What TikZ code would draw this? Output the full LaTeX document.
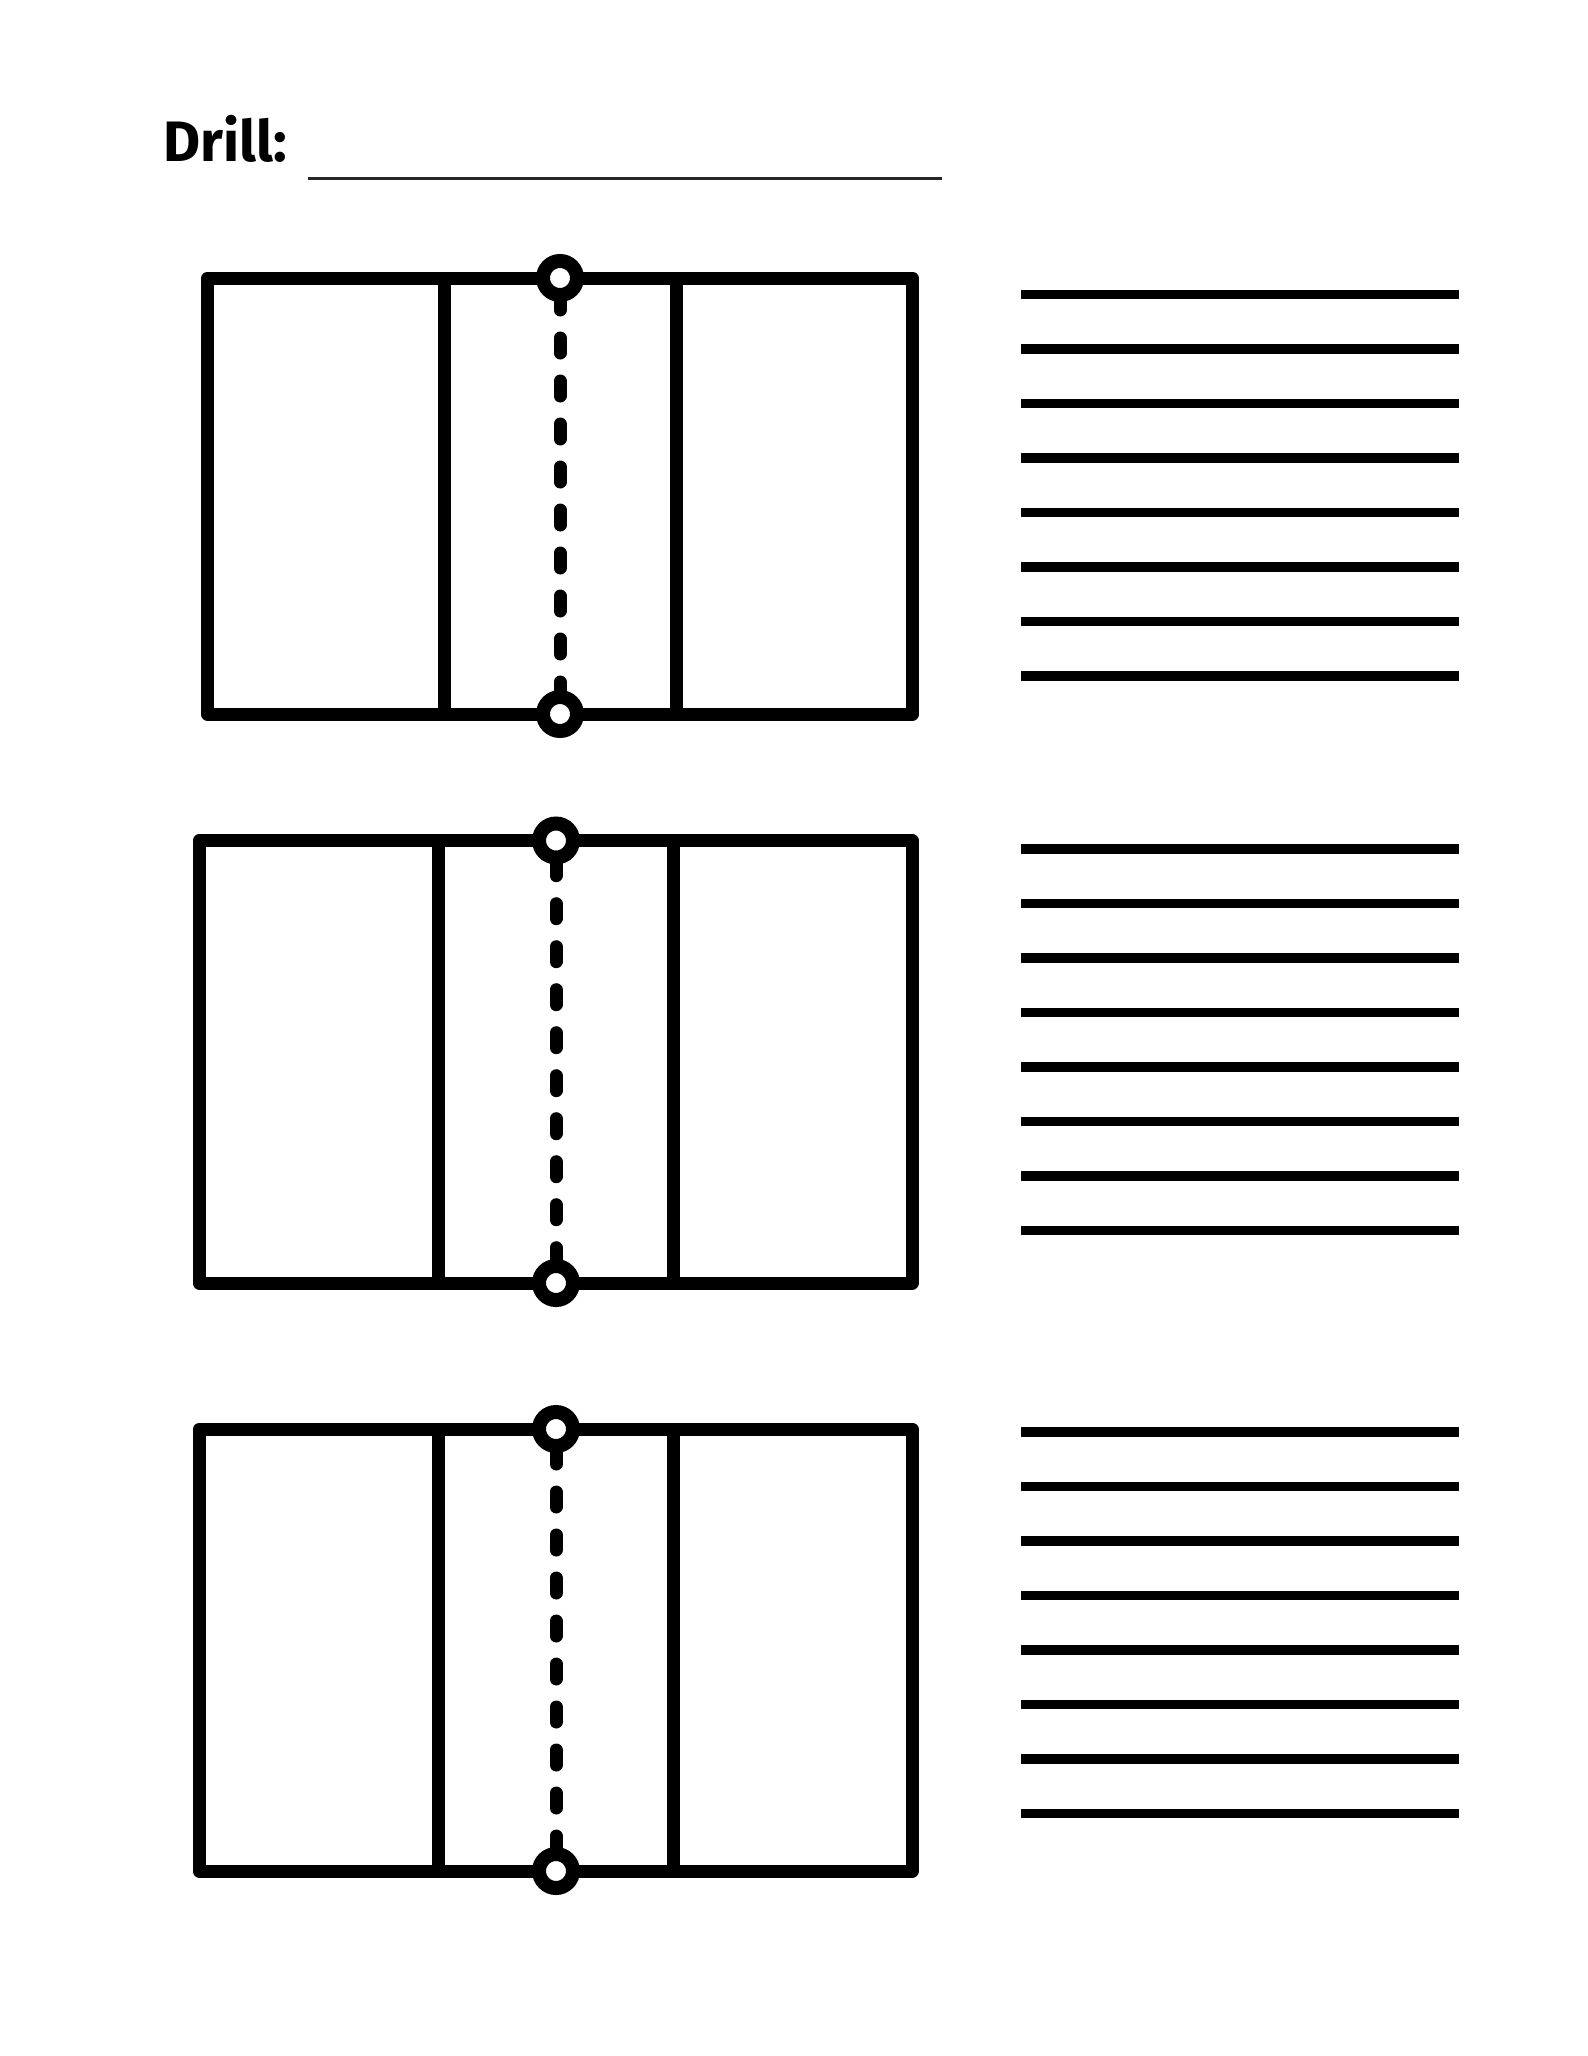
\documentclass[tikz,border=0pt]{standalone}
\usepackage{fontspec}
\setmainfont{Fira Sans}
\begin{document}
\begin{tikzpicture}[x=0.5pt,y=-0.5pt,
  court/.style={line width=6.5pt, line join=round, line cap=round},
  divider/.style={line width=6.5pt},
  centerdash/.style={line width=6.5pt, line cap=round, dash pattern=on 7.5pt off 14pt},
  ring/.style={circle, draw, line width=7pt, fill=white, minimum size=17pt, inner sep=0pt},
  ruling/.style={line width=4.75pt},
  blank/.style={line width=1.5pt, draw=black!85}]
\useasboundingbox[fill=white] (0,0) rectangle (1588,2056);

% title
\node[anchor=base west, inner sep=0pt, font=\fontsize{28.5pt}{34pt}\selectfont\bfseries] (title) at (163,161) {Drill:};
\coordinate (ulA) at (308,178);
\coordinate (ulB) at (942,178);
\draw[blank] (ulA) -- (ulB);

% courts: left, right, top, bottom, divider1, divider2, centre, phase, ruling start, name
\foreach \L/\R/\T/\B/\da/\db/\c/\ph/\ry/\n in {
  207.5/912.5/278/714/444/676/560/13/294.7/a,
  199.3/912/840.5/1283/438.5/673/556/11.4/848.8/b,
  199.3/912/1429/1871/438.5/673/556/11.5/1432/c}{
  \draw[court] (\L,\T) rectangle (\R,\B);
  \draw[divider] (\da,\T) -- (\da,\B);
  \draw[divider] (\db,\T) -- (\db,\B);
  \coordinate (top\n) at (\c,\T);
  \coordinate (bot\n) at (\c,\B);
  \draw[centerdash, dash phase=\ph pt] (top\n) -- (bot\n);
  \node[ring] (ringtop\n) at (top\n) {};
  \node[ring] (ringbot\n) at (bot\n) {};
  \foreach \k in {0,...,7}{
    \coordinate (rl\n\k) at (1021,{\ry+54.5*\k});
    \coordinate (rr\n\k) at (1459,{\ry+54.5*\k});
    \draw[ruling] (rl\n\k) -- (rr\n\k);
  }
}
\end{tikzpicture}
\end{document}
